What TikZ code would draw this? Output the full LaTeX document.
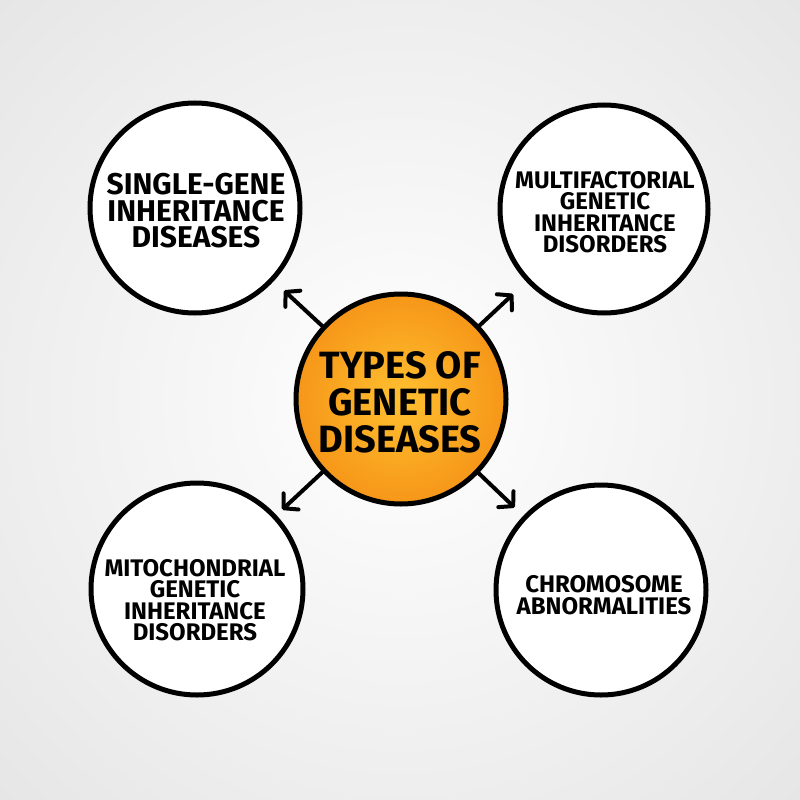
\documentclass[tikz,border=0pt]{standalone}
\usepackage{fontspec}
\newfontfamily\handfont{Fira Sans}
\usetikzlibrary{arrows.meta}
\definecolor{bgedge}{RGB}{230,230,230}
\definecolor{orin}{RGB}{255,192,48}
\definecolor{orout}{RGB}{246,150,24}
\begin{document}
\begin{tikzpicture}[x=1pt,y=-1pt,
  bubble/.style={circle, draw=black, line width=5pt, fill=white, minimum size=210pt, inner sep=0pt},
  hand/.style={align=center, text=black, inner sep=0pt},
  link/.style={line width=4pt, line cap=round, -{Straight Barb[length=10pt,width=22pt,line cap=round,line join=round]}}]
\useasboundingbox (0,0) rectangle (800,800);
\begin{scope}
  \clip (0,0) rectangle (800,800);
  \shade[inner color=white, outer color=bgedge] (400,400) circle (566pt);
\end{scope}
% outer circles
\node[bubble] (tl) at (195,208) {};
\node[bubble, minimum size=208pt] (tr) at (604,209) {};
\node[bubble, minimum size=212pt] (bl) at (197,589) {};
\node[bubble, minimum size=210pt] (br) at (601,590) {};
% center
\node[bubble, minimum size=210pt, inner color=orin, outer color=orout] (c) at (401,399) {};
% texts
\node[hand, font=\handfont\bfseries\fontsize{38}{37}\selectfont] (ct) at (400,402) {TYPES OF\\GENETIC\\DISEASES};
\node[hand, font=\handfont\bfseries\fontsize{30}{26.5}\selectfont] (tlt) at (196,211) {SINGLE-GENE\\INHERITANCE\\DISEASES};
\node[hand, font=\handfont\bfseries\fontsize{24}{21.5}\selectfont] (trt) at (605,212) {MULTIFACTORIAL\\GENETIC\\INHERITANCE\\DISORDERS};
\node[hand, font=\handfont\bfseries\fontsize{24}{21.5}\selectfont] (blt) at (195,600) {MITOCHONDRIAL\\GENETIC\\INHERITANCE\\DISORDERS};
\node[hand, font=\handfont\bfseries\fontsize{24}{22.5}\selectfont] (brt) at (604,595) {CHROMOSOME\\ABNORMALITIES};
% arrows
\draw[link, shorten >=14pt] (c) -- (tl);
\draw[link, shorten >=18pt] (c) -- (tr);
\draw[link, shorten >=8pt] (c) -- (bl);
\draw[link, shorten >=12pt] (c) -- (br);
\end{tikzpicture}
\end{document}
